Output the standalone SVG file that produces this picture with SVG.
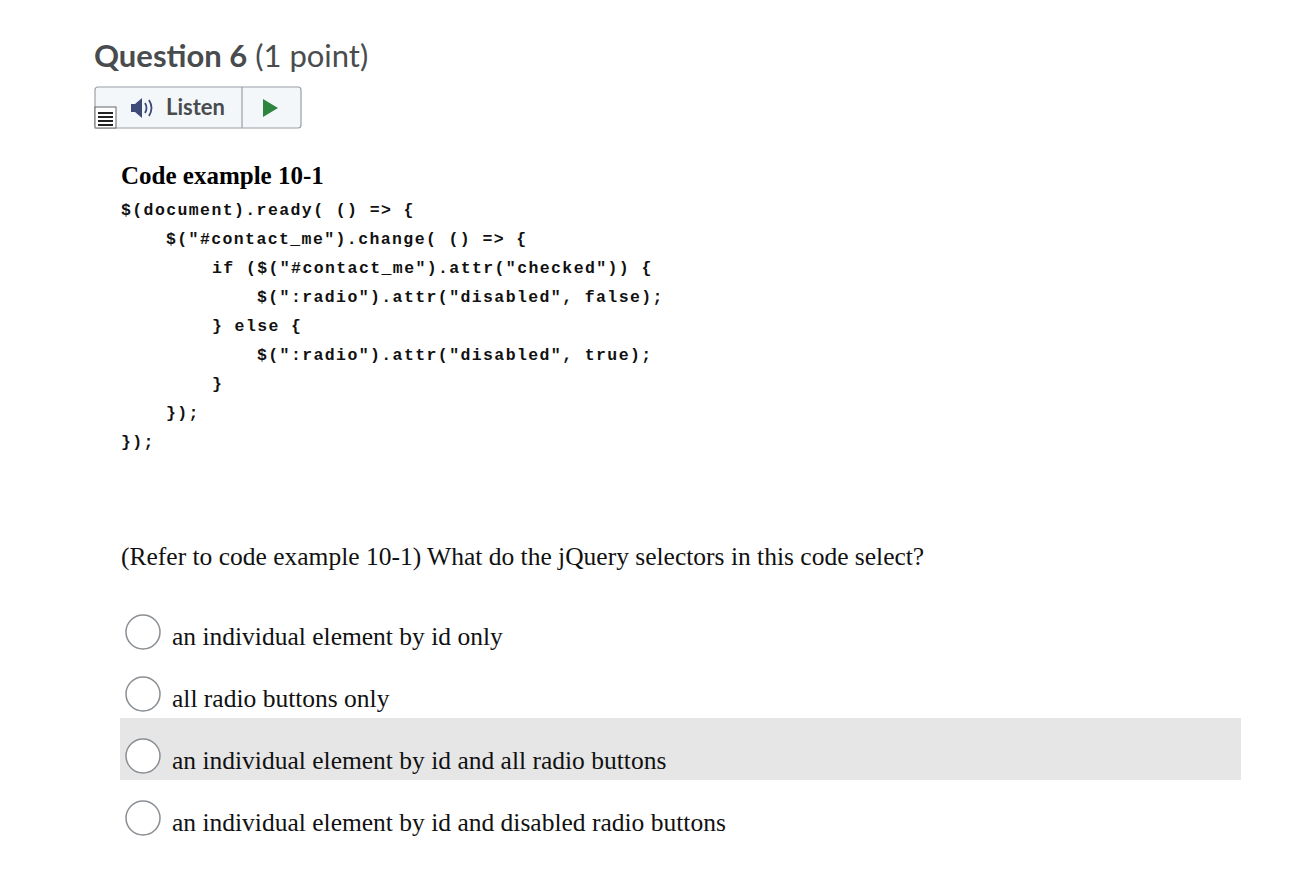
<svg xmlns="http://www.w3.org/2000/svg" width="1290" height="890" viewBox="0 0 1290 890">
<style>
.code{font-family:"Liberation Mono",monospace;font-weight:bold;font-size:16.5px;letter-spacing:1.4px;fill:#111;white-space:pre}
.opt{font-family:"Liberation Serif",serif;font-size:25.5px;fill:#111}
.radio{fill:#fff;stroke:#8a8f94;stroke-width:1.5}
</style>
<rect width="1290" height="890" fill="#fff"/>
<g id="header">
<text x="94" y="67" font-family="Lato,sans-serif" font-size="31" fill="#494c4e"><tspan font-weight="bold">Question 6</tspan> (1 point)</text>
</g>
<g id="listen">
<rect x="95" y="87" width="206" height="41" rx="3" fill="#f4f7fa" stroke="#9aa0a6" stroke-width="1.2"/>
<line x1="242" y1="87" x2="242" y2="128" stroke="#9aa0a6" stroke-width="1.2"/>
<rect x="95" y="107" width="21" height="21" fill="#fff" stroke="#666" stroke-width="1"/>
<rect x="98" y="112" width="15" height="2" fill="#222"/><rect x="98" y="116" width="15" height="2" fill="#222"/><rect x="98" y="120" width="15" height="2" fill="#222"/><rect x="98" y="124" width="15" height="2" fill="#222"/>
<path d="M131 104 h4 l7 -6 v20 l-7 -6 h-4z" fill="#3e4a78"/>
<path d="M145 103 q3 5 0 10 M149 100 q5 8 0 16" fill="none" stroke="#3e4a78" stroke-width="1.8"/>
<text x="166" y="115" font-family="Lato,sans-serif" font-weight="bold" font-size="22" fill="#494c4e">Listen</text>
<path d="M263 99 l15 9 l-15 9z" fill="#2e8540"/>
</g>
<g id="code">
<text x="121" y="184" font-family="Liberation Serif,serif" font-weight="bold" font-size="25" fill="#000">Code example 10-1</text>
<text class="code" x="121" y="215">$(document).ready( () =&gt; {</text>
<text class="code" x="166" y="244">$("#contact_me").change( () =&gt; {</text>
<text class="code" x="212" y="273">if ($("#contact_me").attr("checked")) {</text>
<text class="code" x="257" y="302">$(":radio").attr("disabled", false);</text>
<text class="code" x="212" y="331">} else {</text>
<text class="code" x="257" y="360">$(":radio").attr("disabled", true);</text>
<text class="code" x="212" y="389">}</text>
<text class="code" x="166" y="418">});</text>
<text class="code" x="121" y="447">});</text>
</g>
<g id="question">
<text class="opt" x="121" y="565">(Refer to code example 10-1) What do the jQuery selectors in this code select?</text>
</g>
<g id="options">
<rect x="120" y="718" width="1121" height="62" fill="#e6e6e6"/>
<circle class="radio" cx="143" cy="632" r="17"/>
<text class="opt" x="172" y="645">an individual element by id only</text>
<circle class="radio" cx="143" cy="694" r="17"/>
<text class="opt" x="172" y="707">all radio buttons only</text>
<circle class="radio" cx="143" cy="756" r="17"/>
<text class="opt" x="172" y="769">an individual element by id and all radio buttons</text>
<circle class="radio" cx="143" cy="818" r="17"/>
<text class="opt" x="172" y="831">an individual element by id and disabled radio buttons</text>
</g>
</svg>
